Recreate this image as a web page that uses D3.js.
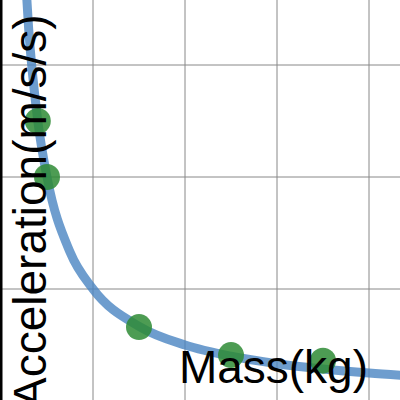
<!DOCTYPE html>
<html><head><meta charset="utf-8">
<script src="https://cdn.jsdelivr.net/npm/d3@7"></script>
<style>body{margin:0;background:#fff}</style>
</head><body><svg id="graf"></svg>
<script>
// measured points
let masses = [0.4, 0.5, 1.5, 2.5, 3.5]
let accels = [2.5, 2.0, 0.66, 0.41, 0.36]
// fitted curve
let curveM = [0.25, 0.3, 0.4, 0.5, 0.75, 1, 1.5, 2, 2.5, 3, 3.5, 4, 4.5]
let curveA = [4.0, 3.33, 2.5, 2.0, 1.33, 1.0, 0.667, 0.5, 0.4, 0.333, 0.286, 0.25, 0.222]
let xTicks = [1, 2, 3, 4]
let yTicks = [1, 2, 3]

let width = 400, height = 400
let x = d3.scaleLinear().domain([0, 4]).range([1, 369])
let y = d3.scaleLinear().domain([0, 3]).range([401, 65])

let svg = d3.select('#graf').attr('width', width).attr('height', height)

svg.selectAll('.vg').data(xTicks).enter().append('line')
  .attr('x1', d => x(d)).attr('x2', d => x(d))
  .attr('y1', 0).attr('y2', height)
  .attr('stroke', '#888').attr('stroke-width', 1)
svg.selectAll('.hg').data(yTicks).enter().append('line')
  .attr('y1', d => y(d)).attr('y2', d => y(d))
  .attr('x1', 0).attr('x2', width)
  .attr('stroke', '#888').attr('stroke-width', 1)

let line = d3.line()
  .x((d, i) => x(curveM[i]))
  .y((d, i) => y(curveA[i]))
  .curve(d3.curveMonotoneX)
svg.append('path').datum(curveA)
  .attr('d', line)
  .attr('fill', 'none')
  .attr('stroke', '#4a85c2').attr('stroke-opacity', 0.8)
  .attr('stroke-width', 9)

svg.selectAll('circle').data(masses).enter().append('circle')
  .attr('cx', d => x(d))
  .attr('cy', (d, i) => y(accels[i]))
  .attr('r', 13)
  .attr('fill', '#2e8b35').attr('fill-opacity', 0.85)

svg.append('line').attr('x1', 1).attr('x2', 1).attr('y1', 0).attr('y2', height)
  .attr('stroke', '#000').attr('stroke-width', 3)

svg.append('text').text('Mass(kg)')
  .attr('x', 368).attr('y', 383).attr('text-anchor', 'end')
  .style('font-family', 'Liberation Sans, Arial, sans-serif').style('font-size', '46px')
svg.append('text').text('Acceleration(m/s/s)')
  .attr('transform', 'translate(46,408) rotate(-90)')
  .style('font-family', 'Liberation Sans, Arial, sans-serif').style('font-size', '46px')
</script></body></html>
